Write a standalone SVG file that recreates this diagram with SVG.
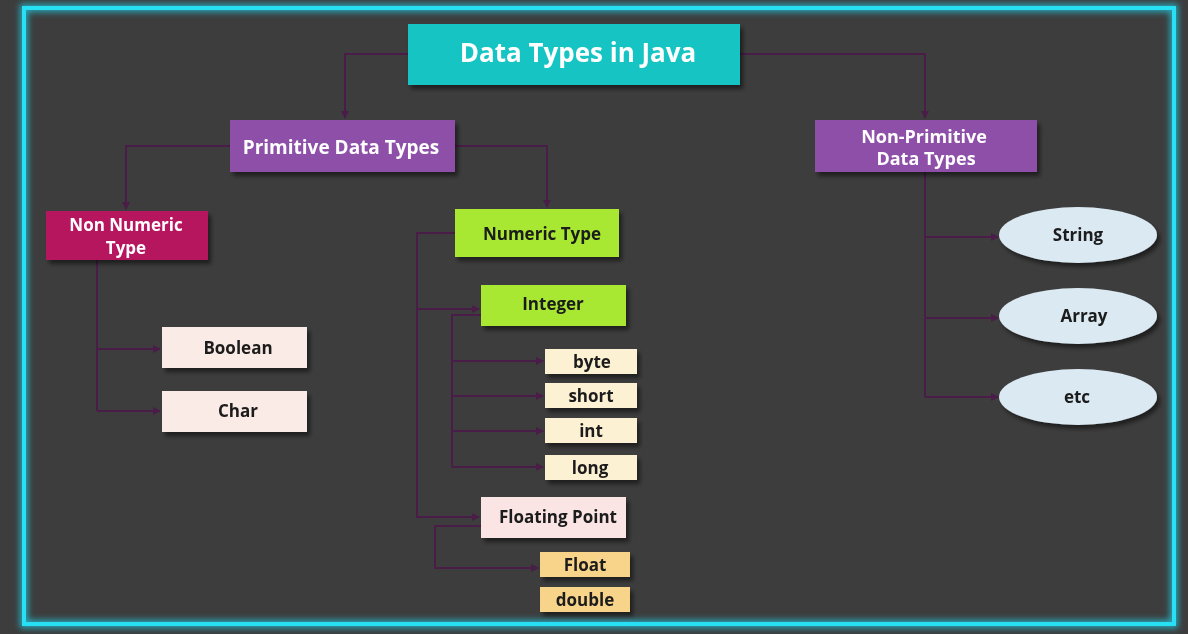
<svg xmlns="http://www.w3.org/2000/svg" width="1188" height="634" viewBox="0 0 1188 634">
<defs>
<marker id="ah" markerWidth="8" markerHeight="8" refX="7" refY="4" orient="auto" markerUnits="userSpaceOnUse"><path d="M0,0 L8,4 L0,8 z" fill="#4a1c48"/></marker>
<filter id="sh" x="-10%" y="-10%" width="130%" height="140%"><feDropShadow dx="3" dy="4" stdDeviation="2" flood-color="#000" flood-opacity="0.5"/></filter>
<filter id="glow" x="-5%" y="-5%" width="110%" height="110%"><feGaussianBlur stdDeviation="3"/></filter>
</defs>
<style>
text{font-family:"Open Sans","Noto Sans",sans-serif;font-weight:bold;text-anchor:middle;dominant-baseline:central}
.w{fill:#fff}.k{fill:#1a1a1a}
.c{fill:none;stroke:#4a1c48;stroke-width:2;marker-end:url(#ah)}
.l{fill:none;stroke:#4a1c48;stroke-width:2}
</style>
<rect width="1188" height="634" fill="#3d3d3d"/>
<rect x="24" y="8" width="1150" height="616" fill="none" stroke="#1fd8ef" stroke-width="8" filter="url(#glow)" opacity="0.7"/>
<rect x="24" y="8" width="1150" height="616" fill="none" stroke="#27e0f5" stroke-width="4"/>
<g id="connectors">
<path class="c" d="M408,54 H345 V118"/>
<path class="c" d="M740,54 H925 V118"/>
<path class="c" d="M230,146 H126 V209"/>
<path class="c" d="M455,146 H547 V207"/>
<path class="l" d="M97,260 V411"/>
<path class="c" d="M97,349 H160"/>
<path class="c" d="M97,411 H160"/>
<path class="c" d="M455,233 H417 V517 H479"/>
<path class="c" d="M417,309 H479"/>
<path class="l" d="M481,315 H452 V467"/>
<path class="c" d="M452,361 H543"/>
<path class="c" d="M452,396 H543"/>
<path class="c" d="M452,431 H543"/>
<path class="c" d="M452,467 H543"/>
<path class="c" d="M481,526 H435 V568 H538"/>
<path class="l" d="M925,172 V397"/>
<path class="c" d="M925,237 H998"/>
<path class="c" d="M925,318 H998"/>
<path class="c" d="M925,397 H998"/>
</g>
<g id="title" filter="url(#sh)"><rect x="408" y="24" width="332" height="61" fill="#13c4c4"/><text x="578" y="52" class="w" font-size="26">Data Types in Java</text></g>
<g id="primitive" filter="url(#sh)"><rect x="230" y="120" width="225" height="52" fill="#8e50a9"/><text x="341" y="147" class="w" font-size="19">Primitive Data Types</text></g>
<g id="nonprimitive" filter="url(#sh)"><rect x="815" y="120" width="222" height="52" fill="#8e50a9"/><text x="924" y="136" class="w" font-size="18">Non-Primitive</text><text x="926" y="158" class="w" font-size="18">Data Types</text></g>
<g id="nonnumeric" filter="url(#sh)"><rect x="46" y="211" width="162" height="49" fill="#b5135d"/><text x="126" y="224" class="w" font-size="17">Non Numeric</text><text x="126" y="247" class="w" font-size="17">Type</text></g>
<g id="numeric" filter="url(#sh)"><rect x="455" y="209" width="164" height="48" fill="#a8e833"/><text x="542" y="233" class="k" font-size="17">Numeric Type</text></g>
<g id="integer" filter="url(#sh)"><rect x="481" y="285" width="145" height="41" fill="#a8e833"/><text x="553" y="303" class="k" font-size="17">Integer</text></g>
<g id="byte" filter="url(#sh)"><rect x="545" y="349" width="92" height="25" fill="#fdf1d3"/><text x="592" y="361" class="k" font-size="17">byte</text></g>
<g id="short" filter="url(#sh)"><rect x="545" y="383" width="92" height="25" fill="#fdf1d3"/><text x="591" y="395" class="k" font-size="17">short</text></g>
<g id="int" filter="url(#sh)"><rect x="545" y="418" width="92" height="25" fill="#fdf1d3"/><text x="591" y="430" class="k" font-size="17">int</text></g>
<g id="long" filter="url(#sh)"><rect x="545" y="455" width="92" height="25" fill="#fdf1d3"/><text x="590" y="467" class="k" font-size="17">long</text></g>
<g id="floating" filter="url(#sh)"><rect x="481" y="497" width="145" height="41" fill="#fae4e4"/><text x="558" y="516" class="k" font-size="17">Floating Point</text></g>
<g id="float" filter="url(#sh)"><rect x="540" y="552" width="90" height="25" fill="#f7d48a"/><text x="585" y="564" class="k" font-size="17">Float</text></g>
<g id="double" filter="url(#sh)"><rect x="540" y="587" width="90" height="25" fill="#f7d48a"/><text x="585" y="599" class="k" font-size="17">double</text></g>
<g id="boolean" filter="url(#sh)"><rect x="162" y="327" width="145" height="41" fill="#faebe6"/><text x="238" y="347" class="k" font-size="17">Boolean</text></g>
<g id="char" filter="url(#sh)"><rect x="162" y="391" width="145" height="41" fill="#faebe6"/><text x="238" y="410" class="k" font-size="17">Char</text></g>
<g id="string" filter="url(#sh)"><ellipse cx="1078" cy="235" rx="79" ry="28" fill="#dbe9f3"/><text x="1078" y="234" class="k" font-size="17">String</text></g>
<g id="array" filter="url(#sh)"><ellipse cx="1078" cy="316" rx="79" ry="28" fill="#dbe9f3"/><text x="1084" y="315" class="k" font-size="17">Array</text></g>
<g id="etc" filter="url(#sh)"><ellipse cx="1078" cy="397" rx="79" ry="28" fill="#dbe9f3"/><text x="1077" y="396" class="k" font-size="17">etc</text></g>
</svg>
